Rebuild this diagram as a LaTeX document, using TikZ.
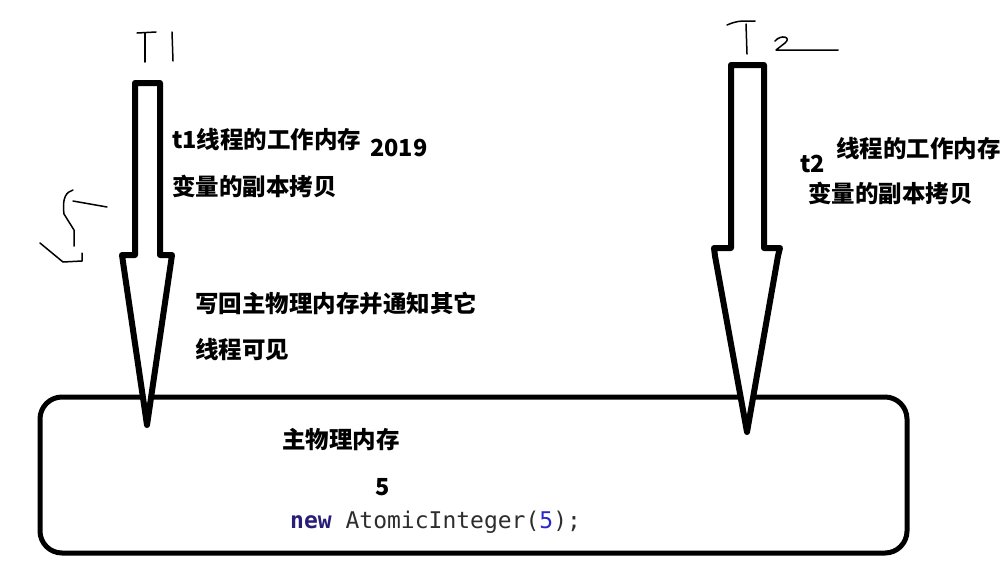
\documentclass[tikz,border=0pt]{standalone}
\usepackage{fontspec}
\newfontfamily\cjk{Noto Sans CJK SC}
\newfontfamily\codefont{DejaVu Sans Mono}
\usetikzlibrary{positioning}
\definecolor{kwblue}{RGB}{40,30,120}
\definecolor{numblue}{RGB}{40,40,200}
\definecolor{codegray}{RGB}{45,45,45}

\begin{document}
\begin{tikzpicture}[x=1pt,y=-1pt,
  blockarrow/.style={draw, fill=white, line width=6pt, line join=round},
  memory/.style={draw, line width=5pt, rounded corners=22pt, minimum width=867pt, minimum height=156pt},
  label/.style={inner sep=0pt, anchor=west, font=\cjk\bfseries\fontsize{23.5}{28}\selectfont},
  code/.style={inner sep=0pt, anchor=west, text=codegray, font=\codefont\fontsize{23}{26}\selectfont},
  hand/.style={line width=1.5pt, line cap=round, line join=round}]

  \useasboundingbox (0,0) rectangle (1008,571);

  \node[memory] (mem) at (473.5,475) {};

  % thread t1
  \coordinate (t1_tip) at (147,425);
  \path[blockarrow] (135,83) -- (160,83) -- (160,255) -- (172,255) -- (171,262)
    -- (t1_tip) -- (123,262) -- (122,255) -- (135,255) -- cycle;
  \draw[hand] (137,33) -- (156,32);
  \draw[hand] (145,33) -- (145,62);
  \draw[hand] (172,32) -- (173,61);
  \draw[hand] (73,190) .. controls (66,192) and (62,198) .. (64,214) -- (74,230) -- (74,246);
  \draw[hand] (73,201) -- (107,207);
  \draw[hand] (40,243) -- (63,262) -- (82,261) -- (82,253);

  % thread t2
  \coordinate (t2_tip) at (747,432);
  \path[blockarrow] (731,65) -- (764,65) -- (764,248) -- (780,248) -- (778,256)
    -- (t2_tip) -- (715,256) -- (714,248) -- (731,248) -- cycle;
  \draw[hand] (727,25) .. controls (737,21) .. (755,21);
  \draw[hand] (746,24) -- (747,54);
  \draw[hand] (775,41) .. controls (781,34) and (792,37) .. (785,43) -- (776,50) -- (838,50);

  \node[label] (t1_work) at (172,140) {t1线程的工作内存};
  \node[label] (t1_year) at (370,148) {2019};
  \node[label] (t1_copy) [below=46pt of t1_work.west, anchor=west] {变量的副本拷贝};

  \node[label] (t2_work) at (836,149) {线程的工作内存};
  \node[label] (t2_name) at (800,164) {t2};
  \node[label] (t2_copy) at (808,193) {变量的副本拷贝};

  \node[label] (write_back) at (195,304) {写回主物理内存并通知其它};
  \node[label] (visible) [below=46pt of write_back.west, anchor=west] {线程可见};

  \node[label] (mem_name) at (282,440) {主物理内存};
  \node[label] (mem_value) at (375,487) {5};
  \node[code] (mem_code) at (290,522) {\textcolor{kwblue}{\bfseries new} AtomicInteger(\textcolor{numblue}{5});};

\end{tikzpicture}
\end{document}
